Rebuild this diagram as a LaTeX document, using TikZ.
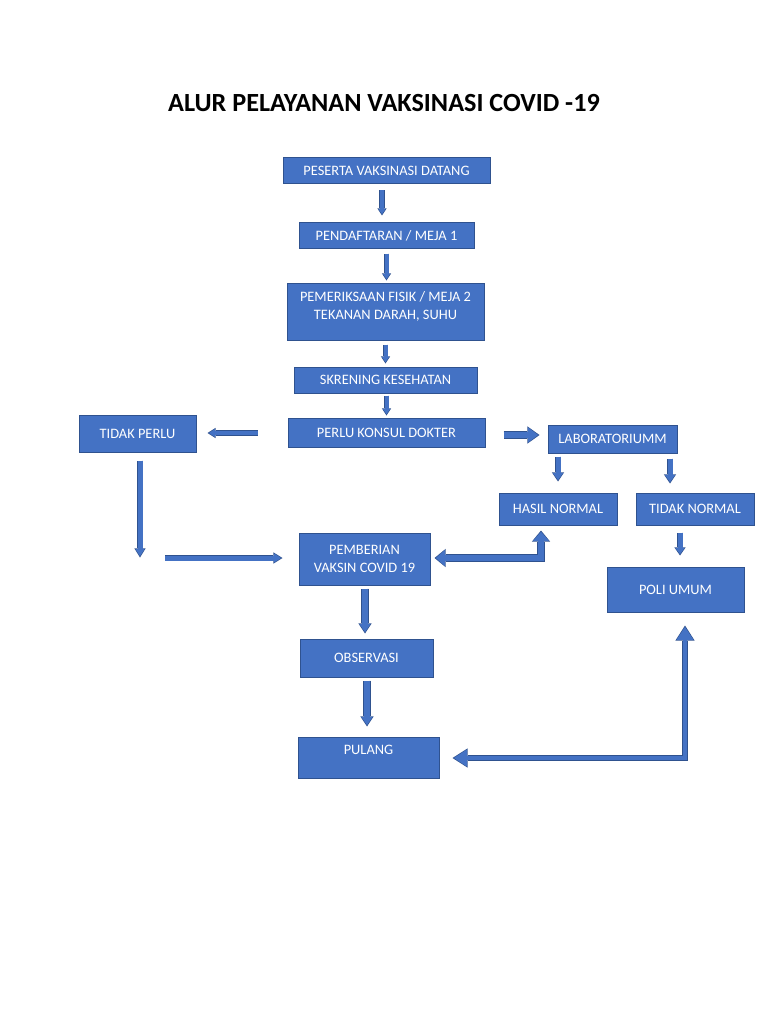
\documentclass[tikz,border=0pt]{standalone}
\usepackage{fontspec}
\setmainfont{Carlito}
\usetikzlibrary{arrows.meta,calc}

\definecolor{boxfill}{HTML}{4472C4}
\definecolor{boxline}{HTML}{2F528F}
\definecolor{arrfill}{HTML}{4472C4}
\definecolor{arrline}{HTML}{2F528F}

\tikzset{
  kotak/.style={draw=boxline, fill=boxfill, text=white, line width=1pt,
    align=center, inner sep=2pt, font=\fontsize{14.4}{18}\selectfont},
}

% panah blok: #1 batang, #2 lebar kepala, #3 panjang kepala, #4 lintasan
\newcommand{\blk}[4]{%
  \pgfmathsetmacro\blkS{#1+1.6}\pgfmathsetmacro\blkW{#2+2.4}\pgfmathsetmacro\blkL{#3+2.2}%
  \draw[draw=arrline, line width=\blkS pt, line join=miter,
    -{Triangle[width=\blkW pt, length=\blkL pt, line width=0pt 0]}] #4;
  \draw[draw=arrfill, line width=#1pt, line join=miter, shorten >=1.4pt,
    -{Triangle[width=#2pt, length=#3pt, line width=0pt 0]}] #4;}
\newcommand{\blkdua}[4]{%
  \pgfmathsetmacro\blkS{#1+1.6}\pgfmathsetmacro\blkW{#2+2.4}\pgfmathsetmacro\blkL{#3+2.2}%
  \draw[draw=arrline, line width=\blkS pt, line join=miter,
    {Triangle[width=\blkW pt, length=\blkL pt, line width=0pt 0]}-{Triangle[width=\blkW pt, length=\blkL pt, line width=0pt 0]}] #4;
  \draw[draw=arrfill, line width=#1pt, line join=miter, shorten >=1.4pt, shorten <=1.4pt,
    {Triangle[width=#2pt, length=#3pt, line width=0pt 0]}-{Triangle[width=#2pt, length=#3pt, line width=0pt 0]}] #4;}

\begin{document}
\begin{tikzpicture}[x=1pt, y=-1pt]
    \useasboundingbox (0,0) rectangle (768,1024);

    % Judul
    \node[font=\fontsize{26.2}{30}\selectfont\bfseries] (judul) at (384,103) {ALUR PELAYANAN VAKSINASI COVID -19};

    % Kotak-kotak
    \node[kotak, minimum width=207pt, minimum height=26pt] (peserta) at (386.5,171) {PESERTA VAKSINASI DATANG};
    \node[kotak, minimum width=175pt, minimum height=25pt] (daftar) at (386.5,235.5) {PENDAFTARAN / MEJA 1};
    \node[kotak, minimum width=197pt, minimum height=57pt, text depth=12pt] (periksa) at (385.5,311.5) {PEMERIKSAAN FISIK / MEJA 2\\TEKANAN DARAH, SUHU};
    \node[kotak, minimum width=183pt, minimum height=26pt] (skrening) at (385.5,380) {SKRENING KESEHATAN};
    \node[kotak, minimum width=197pt, minimum height=29pt] (konsul) at (386.5,432.5) {PERLU KONSUL DOKTER};
    \node[kotak, minimum width=117pt, minimum height=37pt] (tidak) at (137.5,433.5) {TIDAK PERLU};
    \node[kotak, minimum width=129pt, minimum height=28pt] (lab) at (612.5,439) {LABORATORIUMM};
    \node[kotak, minimum width=118pt, minimum height=32pt] (hasil) at (558,509) {HASIL NORMAL};
    \node[kotak, minimum width=118pt, minimum height=32pt] (abnormal) at (695,509) {TIDAK NORMAL};
    \node[kotak, minimum width=131pt, minimum height=52pt] (vaksin) at (364.5,559) {PEMBERIAN\\VAKSIN COVID 19};
    \node[kotak, minimum width=137pt, minimum height=45pt] (poli) at (675.5,589.5) {POLI UMUM};
    \node[kotak, minimum width=133pt, minimum height=38pt] (observasi) at (366.5,658) {OBSERVASI};
    \node[kotak, minimum width=141pt, minimum height=41pt, text depth=15pt] (pulang) at (368.5,757.5) {PULANG};

    % Ujung bebas panah
    \coordinate (tpbawah) at ($(tidak.south)+(2.5,105)$);
    \coordinate (tpkanan) at (165,558);

    % Panah alur utama
    \blk{4}{7}{5}{($(peserta.south)+(-4.5,6)$) -- ($(daftar.north)+(-4.5,-7)$)}
    \blk{4}{7}{5}{($(daftar.south)+(0,5)$) -- ($(daftar.south |- periksa.north)+(0,-2)$)}
    \blk{4}{7}{5}{($(periksa.south)+(0,4)$) -- ($(periksa.south |- skrening.north)+(0,-3)$)}
    \blk{4}{7}{5}{($(konsul.north |- skrening.south)+(0,2)$) -- ($(konsul.north)+(0,-2)$)}
    \blk{4}{8}{6}{($(konsul.west)+(-30,0.5)$) -- ($(tidak.east |- konsul.west)+(11,0.5)$)}
    \blk{6.5}{15}{10}{($(konsul.east)+(18,2.5)$) -- ($(lab.west |- konsul.east)+(-8,2.5)$)}
    \blk{5}{10}{7}{($(hasil.north |- lab.south)+(0,3)$) -- ($(hasil.north)+(0,-11)$)}
    \blk{5}{10}{7}{($(lab.south)+(57.5,5)$) -- ($(abnormal.north)+(-25,-9)$)}
    \blk{5}{9}{6}{($(abnormal.south)+(-15,7)$) -- ($(abnormal.south |- poli.north)+(-15,-11)$)}
    \blk{5}{9}{7}{($(tidak.south)+(2.5,8)$) -- (tpbawah)}
    \blk{5}{9}{7}{(tpkanan) -- ($(vaksin.west |- tpkanan)+(-16,0)$)}
    \blk{6}{11}{8}{($(vaksin.south)+(0.5,3)$) -- ($(vaksin.south |- observasi.north)+(0.5,-5)$)}
    \blk{6}{11}{8}{($(observasi.south)+(0.5,3)$) -- ($(observasi.south |- pulang.north)+(0.5,-10)$)}

    % Panah siku dua arah
    \blkdua{6}{16}{9}{($(vaksin.east)+(4,-1)$) -| ($(hasil.south)+(-17,5)$)}
    \blkdua{4}{17}{13}{($(pulang.east)+(13,0.5)$) -| ($(poli.south)+(9.5,13)$)}
\end{tikzpicture}
\end{document}
